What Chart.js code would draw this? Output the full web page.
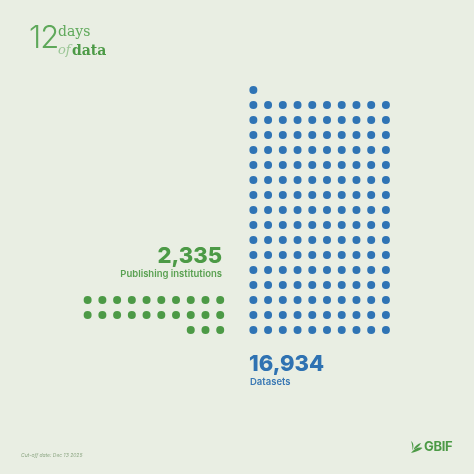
<!DOCTYPE html>
<html>
<head>
<meta charset="utf-8">
<script src="https://cdn.jsdelivr.net/npm/chart.js@4.4.1/dist/chart.umd.min.js"></script>
<style>
  html, body { margin: 0; padding: 0; background: #e9eee3; }
  #wrap { position: relative; width: 474px; height: 474px; overflow: hidden; }
  #dots { position: absolute; left: 0; top: 0; }
  .t { position: absolute; white-space: nowrap; font-family: Inter, "Noto Sans", sans-serif; }
  #t12 { left: 29px; top: 18px; font-size: 31px; font-weight: 300; color: #5ea85a; letter-spacing: -1px; }
  #tdays { left: 58px; top: 23px; font-family: "DejaVu Serif", serif; font-size: 14px; color: #5ea85a; }
  #tof { left: 58px; top: 42px; font-family: "DejaVu Serif", serif; font-style: italic; font-weight: 300; font-size: 13px; color: #9cc797; }
  #tdata { left: 72px; top: 42px; font-family: "DejaVu Serif", serif; font-weight: bold; font-size: 14px; color: #4c9a46; }
  #greenNum { right: 252px; top: 242px; font-size: 22px; font-weight: 800; color: #4c9a46; }
  #greenLab { right: 252px; top: 268px; font-size: 9.5px; font-weight: 600; color: #5aa152; }
  #blueNum { left: 249px; top: 350px; font-size: 22px; font-weight: 800; color: #2f72b2; }
  #blueLab { left: 250px; top: 376px; font-size: 9.5px; font-weight: 600; color: #3a78b4; }
  #cutoff { left: 21px; top: 452px; font-size: 5px; font-style: italic; color: #8fa886; }
  #logo { left: 410px; top: 438px; font-size: 13px; font-weight: 700; color: #4c9a46; display: flex; align-items: center; letter-spacing: -0.3px; }
</style>
</head>
<body>
<div id="wrap">
  <canvas id="dots" width="474" height="474"></canvas>
  <div class="t" id="t12">12</div>
  <div class="t" id="tdays">days</div>
  <div class="t" id="tof">of</div>
  <div class="t" id="tdata">data</div>
  <div class="t" id="greenNum"></div>
  <div class="t" id="greenLab"></div>
  <div class="t" id="blueNum"></div>
  <div class="t" id="blueLab"></div>
  <div class="t" id="cutoff">Cut-off date: Dec 13 2025</div>
  <div class="t" id="logo">
    <svg width="13" height="16" viewBox="0 0 13 16">
      <path d="M1 15 C5 14 9 13 12.5 10 C9 8.5 4 10.5 1 15 Z" fill="#4c9a46"/>
      <path d="M2.5 12.5 C2.5 9 2 5 1 3 C3.5 4.5 4.2 8.5 2.5 12.5 Z" fill="#4c9a46"/>
      <path d="M3.5 11.5 C5 8 8 5.5 11 5 C9.5 8 6.5 10.5 3.5 11.5 Z" fill="#4c9a46"/>
    </svg><span style="margin-left:1px">GBIF</span>
  </div>
</div>
<script>
// values
const categories = ['Publishing institutions', 'Datasets'];
const totals = [2335, 16934];
// green grid: rows listed top to bottom, short row is right-aligned
const greenRows = [10, 10, 3];
// blue grid: rows listed bottom to top, short row is left-aligned
const blueRows = [10, 10, 10, 10, 10, 10, 10, 10, 10, 10, 10, 10, 10, 10, 10, 10, 1];

const perRow = 10;
const blueOffset = 11.25; // gap between the two grids, in dot spacings

let greenPts = [];
greenRows.forEach(function (n, i) {
    let y = greenRows.length - 1 - i;
    for (let c = perRow - n; c < perRow; c++) greenPts.push({ x: c, y: y });
});
let bluePts = [];
blueRows.forEach(function (n, i) {
    for (let c = 0; c < n; c++) bluePts.push({ x: c + blueOffset, y: i });
});

document.getElementById('greenNum').textContent = totals[0].toLocaleString('en-US');
document.getElementById('greenLab').textContent = categories[0];
document.getElementById('blueNum').textContent = totals[1].toLocaleString('en-US');
document.getElementById('blueLab').textContent = categories[1];

let ctx = document.getElementById('dots');
let myChart = new Chart(ctx, {
    type: 'scatter',
    data: {
        datasets: [{
            label: categories[0],
            data: greenPts,
            backgroundColor: '#4c9a46',
            borderWidth: 0,
            pointRadius: 4
        }, {
            label: categories[1],
            data: bluePts,
            backgroundColor: '#2f74b5',
            borderWidth: 0,
            pointRadius: 4
        }]
    },
    options: {
        responsive: false,
        animation: false,
        layout: { padding: 0, autoPadding: false },
        plugins: { legend: { display: false }, tooltip: { enabled: false } },
        scales: {
            x: { display: false, min: -5.95, max: 26.23 },
            y: { display: false, min: -9.6, max: 22 }
        }
    }
});
</script>
</body>
</html>
